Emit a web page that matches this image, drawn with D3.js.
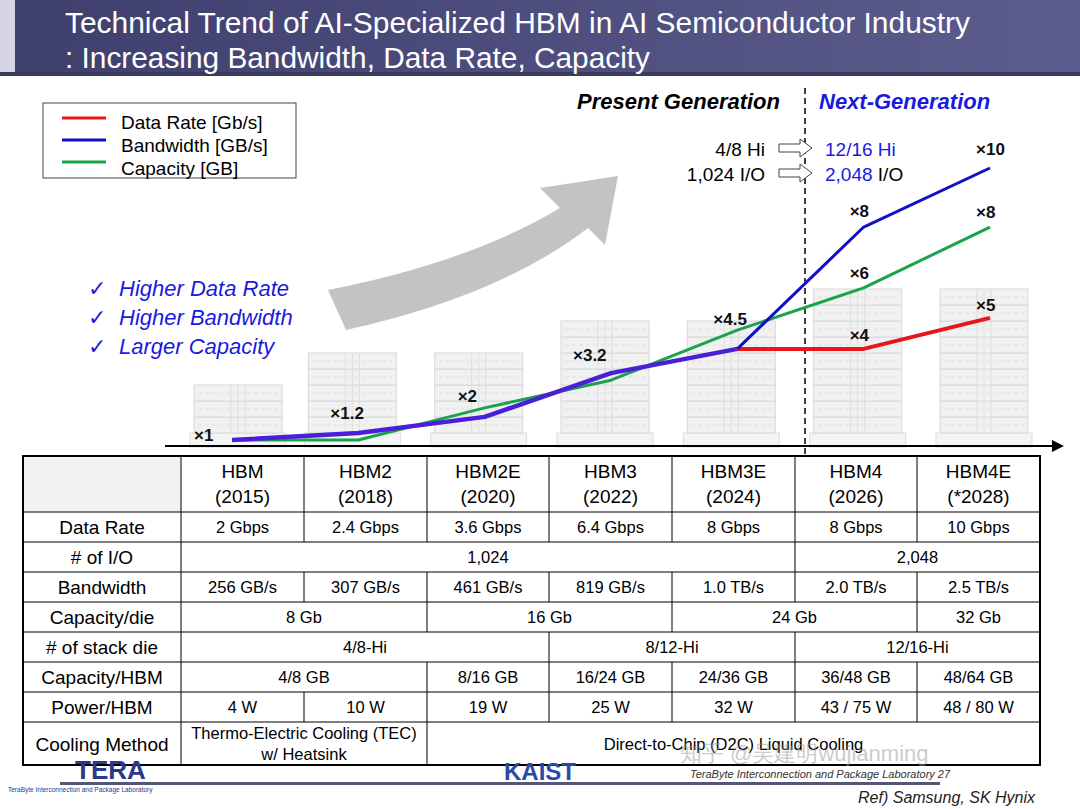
<!DOCTYPE html><html><head><meta charset="utf-8"><script src="https://cdn.jsdelivr.net/npm/d3@7"></script>
<style>body{margin:0;background:#fff}text{font-family:"Liberation Sans",Arial,sans-serif}</style></head><body>
<svg id="c" width="1080" height="809"></svg>
<script>
const gens=["HBM","HBM2","HBM2E","HBM3","HBM3E","HBM4","HBM4E"];
const years=["(2015)","(2018)","(2020)","(2022)","(2024)","(2026)","(*2028)"];
// relative trend index (0 = ×1 baseline)
const bandwidth=[0,0.26,0.85,2.46,3.35,7.83,10];
const dataRate=[0,0.26,0.85,2.46,3.35,3.35,4.49];
const capacity=[0,0,1.18,2.2,4.04,5.59,7.83];
const stackLevels=[3,5,5,7,7,9,9];
const multLabels=[
 {g:0,t:"×1",dx:-38,dy:1},{g:1,t:"×1.2",dx:-28,dy:-14},{g:2,t:"×2",dx:-27,dy:-15},
 {g:3,t:"×3.2",dx:-38,dy:-12},{g:4,t:"×4.5",dx:-24,dy:-24},
 {g:5,t:"×8",s:"bw",dx:-14,dy:-10},{g:5,t:"×6",s:"cap",dx:-14,dy:-9},{g:5,t:"×4",s:"dr",dx:-14,dy:-8},
 {g:6,t:"×10",s:"bw",dx:-14,dy:-13},{g:6,t:"×8",s:"cap",dx:-14,dy:-9},{g:6,t:"×5",s:"dr",dx:-14,dy:-7}];
const rows=[
 ["Data Rate",[["2 Gbps",1],["2.4 Gbps",1],["3.6 Gbps",1],["6.4 Gbps",1],["8 Gbps",1],["8 Gbps",1],["10 Gbps",1]]],
 ["# of I/O",[["1,024",5],["2,048",2]]],
 ["Bandwidth",[["256 GB/s",1],["307 GB/s",1],["461 GB/s",1],["819 GB/s",1],["1.0 TB/s",1],["2.0 TB/s",1],["2.5 TB/s",1]]],
 ["Capacity/die",[["8 Gb",2],["16 Gb",2],["24 Gb",2],["32 Gb",1]]],
 ["# of stack die",[["4/8-Hi",3],["8/12-Hi",2],["12/16-Hi",2]]],
 ["Capacity/HBM",[["4/8 GB",2],["8/16 GB",1],["16/24 GB",1],["24/36 GB",1],["36/48 GB",1],["48/64 GB",1]]],
 ["Power/HBM",[["4 W",1],["10 W",1],["19 W",1],["25 W",1],["32 W",1],["43 / 75 W",1],["48 / 80 W",1]]],
 ["Cooling Method",[["Thermo-Electric Cooling (TEC)|w/ Heatsink",2],["Direct-to-Chip (D2C) Liquid Cooling",5]]]];

const svg=d3.select("#c");
const defs=svg.append("defs");
const lg=defs.append("linearGradient").attr("id","tb").attr("x1",0).attr("x2",1);
lg.append("stop").attr("offset",0).attr("stop-color","#3f3f6e");lg.append("stop").attr("offset",1).attr("stop-color","#5c5c8e");
svg.append("rect").attr("width",1080).attr("height",74).attr("fill","url(#tb)");
svg.append("rect").attr("width",15).attr("height",74).attr("fill","#d4d4e4");
svg.append("rect").attr("y",72).attr("width",1080).attr("height",4).attr("fill","#3a3a5a");
svg.append("text").attr("x",65).attr("y",33).attr("fill","#fff").attr("font-size",29).attr("textLength",905).attr("lengthAdjust","spacingAndGlyphs").text("Technical Trend of AI-Specialized HBM in AI Semiconductor Industry");
svg.append("text").attr("x",65).attr("y",68).attr("fill","#fff").attr("font-size",29).attr("textLength",585).attr("lengthAdjust","spacingAndGlyphs").text(": Increasing Bandwidth, Data Rate, Capacity");

const x=d3.scalePoint().domain(gens).range([232,990]);
const y=d3.scaleLinear().domain([0,10]).range([440,168]);

const bw=88, lvl=16, base=447;
gens.forEach((g,i)=>{
  const h=stackLevels[i]*lvl, bx=x(g)-bw/2+(i===0?12:0)-6;
  const gg=svg.append("g");
  gg.append("rect").attr("x",bx-4).attr("y",base-14).attr("width",bw+8).attr("height",14).attr("fill","#f4f4f4").attr("stroke","#ddd");
  for(let k=0;k<stackLevels[i];k++){
    const yy=base-14-(k+1)*lvl;
    gg.append("rect").attr("x",bx).attr("y",yy).attr("width",bw).attr("height",lvl).attr("fill","#f1f1f1").attr("stroke","#d8d8d8");
    gg.append("line").attr("x1",bx+4).attr("x2",bx+bw-4).attr("y1",yy+lvl/2).attr("y2",yy+lvl/2).attr("stroke","#e0e0e0").attr("stroke-dasharray","4,3");
  }
  [0.42,0.5,0.58].forEach(f=>gg.append("line").attr("x1",bx+bw*f).attr("x2",bx+bw*f).attr("y1",base-14-h).attr("y2",base-14).attr("stroke","#ddd"));
});

svg.append("path").attr("d","M328,290 Q470,262 560,208 L540,188 L618,176 L605,245 L588,228 Q500,296 346,330 Z").attr("fill","#bdbdbd").attr("opacity",0.9);

svg.append("line").attr("x1",165).attr("x2",1055).attr("y1",446).attr("y2",446).attr("stroke","#000").attr("stroke-width",2);
svg.append("path").attr("d","M1052,440 L1064,446 L1052,452 Z").attr("fill","#000");
svg.append("line").attr("x1",805).attr("x2",805).attr("y1",88).attr("y2",460).attr("stroke","#000").attr("stroke-width",1.5).attr("stroke-dasharray","6,4");

const ln=(arr,idx,col,w)=>svg.append("path").datum(idx.map(i=>arr[i])).attr("d",d3.line().x((d,j)=>x(gens[idx[j]])).y(d=>y(d))).attr("fill","none").attr("stroke",col).attr("stroke-width",w).attr("stroke-linejoin","round");
ln(capacity,[0,1,2,3,4,5,6],"#1aa34a",3);
ln(dataRate,[4,5,6],"#e8161b",4);
ln(bandwidth,[0,1,2,3,4],"#4a1fd8",4.5);
ln(bandwidth,[4,5,6],"#1010c8",3);

multLabels.forEach(m=>{
  const v=m.s==="cap"?capacity[m.g]:m.s==="dr"?dataRate[m.g]:bandwidth[m.g];
  svg.append("text").attr("x",x(gens[m.g])+m.dx).attr("y",y(v)+m.dy).attr("font-size",17).attr("font-weight","bold").attr("fill","#111").text(m.t);
});

svg.append("rect").attr("x",43).attr("y",103).attr("width",253).attr("height",75).attr("fill","#fff").attr("stroke","#444");
[["Data Rate [Gb/s]","#e8161b"],["Bandwidth [GB/s]","#1010c8"],["Capacity [GB]","#1aa34a"]].forEach((d,i)=>{
  svg.append("line").attr("x1",62).attr("x2",106).attr("y1",118+i*22).attr("y2",118+i*22).attr("stroke",d[1]).attr("stroke-width",3);
  svg.append("text").attr("x",121).attr("y",129+i*23).attr("font-size",19).text(d[0]);
});
["Higher Data Rate","Higher Bandwidth","Larger Capacity"].forEach((t,i)=>{
  svg.append("text").attr("x",88).attr("y",296+i*29).attr("font-size",22).attr("fill","#1a1adf").text("✓");
  svg.append("text").attr("x",119).attr("y",296+i*29).attr("font-size",22).attr("font-style","italic").attr("fill","#1a1adf").text(t);
});
svg.append("text").attr("x",780).attr("y",109).attr("text-anchor","end").attr("font-size",22).attr("font-weight","bold").attr("font-style","italic").text("Present Generation");
svg.append("text").attr("x",819).attr("y",109).attr("font-size",22).attr("font-weight","bold").attr("font-style","italic").attr("fill","#1a1adf").text("Next-Generation");
svg.append("text").attr("x",765).attr("y",156).attr("text-anchor","end").attr("font-size",19).text("4/8 Hi");
svg.append("text").attr("x",765).attr("y",181).attr("text-anchor","end").attr("font-size",19).text("1,024 I/O");
svg.append("text").attr("x",825).attr("y",156).attr("font-size",19).attr("fill","#1a1adf").text("12/16 Hi");
const t2=svg.append("text").attr("x",825).attr("y",181).attr("font-size",19);
t2.append("tspan").attr("fill","#1a1adf").text("2,048");t2.append("tspan").text(" I/O");
[148,173].forEach(yy=>svg.append("path").attr("d",`M779,${yy-4} L800,${yy-4} L800,${yy-9} L812,${yy} L800,${yy+9} L800,${yy+4} L779,${yy+4} Z`).attr("fill","#fff").attr("stroke","#444"));

const colX=[23,181,304,427,549,672,795,917,1040];
const rowY=[456,512,542,572,602,632,662,692,722,765];
const T=svg.append("g");
T.append("rect").attr("x",23).attr("y",456).attr("width",1017).attr("height",309).attr("fill","#fff");
T.append("rect").attr("x",23).attr("y",456).attr("width",158).attr("height",56).attr("fill","#f2f2f2");
gens.forEach((g,i)=>{
  const cx=(colX[i+1]+colX[i+2])/2;
  T.append("text").attr("x",cx).attr("y",478).attr("text-anchor","middle").attr("font-size",19).text(g);
  T.append("text").attr("x",cx).attr("y",503).attr("text-anchor","middle").attr("font-size",19).text(years[i]);
  T.append("line").attr("x1",colX[i+1]).attr("x2",colX[i+1]).attr("y1",456).attr("y2",512).attr("stroke","#000");
});
rows.forEach((r,ri)=>{
  const y0=rowY[ri+1],y1=rowY[ri+2],cy=(y0+y1)/2;
  T.append("line").attr("x1",23).attr("x2",1040).attr("y1",y0).attr("y2",y0).attr("stroke","#000");
  T.append("text").attr("x",102).attr("y",cy+7).attr("text-anchor","middle").attr("font-size",19).text(r[0]);
  T.append("line").attr("x1",181).attr("x2",181).attr("y1",y0).attr("y2",y1).attr("stroke","#000");
  let c=1;
  r[1].forEach(([t,span])=>{
    const xa=colX[c],xb=colX[c+span];c+=span;
    if(c<8)T.append("line").attr("x1",xb).attr("x2",xb).attr("y1",y0).attr("y2",y1).attr("stroke","#000");
    const parts=t.split("|");
    parts.forEach((p,k)=>T.append("text").attr("x",(xa+xb)/2).attr("y",cy+6+(k-(parts.length-1)/2)*21).attr("text-anchor","middle").attr("font-size",16.5).text(p));
  });
});
T.append("rect").attr("x",23).attr("y",456).attr("width",1017).attr("height",309).attr("fill","none").attr("stroke","#000").attr("stroke-width",2);

svg.append("text").attr("x",75).attr("y",779).attr("font-size",26).attr("font-weight","bold").attr("fill","#2a3a8a").text("TERA");
svg.append("text").attr("x",8).attr("y",792).attr("font-size",6.5).attr("fill","#2a3a8a").text("TeraByte Interconnection and Package Laboratory");
svg.append("rect").attr("x",60).attr("y",782).attr("width",880).attr("height",3).attr("fill","#555577");
svg.append("text").attr("x",540).attr("y",780).attr("text-anchor","middle").attr("font-size",24).attr("font-weight","bold").attr("fill","#2a4aa8").text("KAIST");
svg.append("text").attr("x",690).attr("y",778).attr("font-size",11).attr("font-style","italic").attr("fill","#333").text("TeraByte Interconnection and Package Laboratory   27");
svg.append("text").attr("x",1035).attr("y",803).attr("text-anchor","end").attr("font-size",16).attr("font-style","italic").attr("fill","#222").text("Ref) Samsung, SK Hynix");
svg.append("text").attr("x",680).attr("y",761).attr("font-size",22).attr("fill","#999").attr("opacity",0.5).attr("font-family","Noto Sans CJK SC").text("知乎 @吴建明wujianming");
</script></body></html>
